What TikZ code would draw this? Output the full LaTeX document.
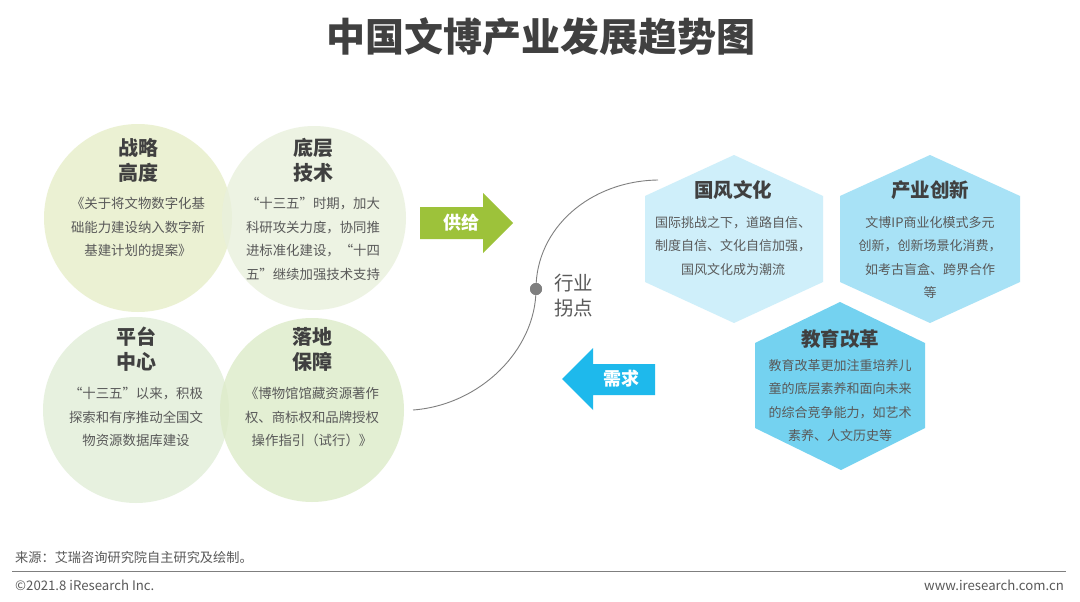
\documentclass[tikz,border=0pt]{standalone}
\usepackage{fontspec}
\setmainfont{Noto Sans CJK SC}
\definecolor{ttl}{HTML}{404040}
\definecolor{bdy}{HTML}{595959}
\definecolor{cTL}{HTML}{E7EEC8}
\definecolor{cTR}{HTML}{E9F0DC}
\definecolor{cBL}{HTML}{E1EED8}
\definecolor{cBR}{HTML}{DDEBC9}
\definecolor{hexA}{HTML}{CFEFFA}
\definecolor{hexB}{HTML}{A8E2F6}
\definecolor{hexC}{HTML}{74D2F0}
\definecolor{supgreen}{HTML}{9DC23A}
\definecolor{demblue}{HTML}{1EB9EC}
\definecolor{curvegray}{HTML}{7F7F7F}
\begin{document}
\begin{tikzpicture}[x=1pt,y=-1pt,
  circ/.style={fill opacity=0.8},
  ctitle/.style={text=ttl,font=\fontsize{20}{25}\selectfont\bfseries,align=center,inner sep=0pt},
  cbody/.style={text=bdy,font=\fontsize{13.4}{23.5}\selectfont,align=center,inner sep=0pt},
  htitle/.style={text=ttl,font=\fontsize{19.5}{24}\selectfont\bfseries,inner sep=0pt},
  hbody/.style={text=bdy,font=\fontsize{13}{23.5}\selectfont,align=center,inner sep=0pt},
  arrlabel/.style={text=white,font=\fontsize{18}{22}\selectfont\bfseries,inner sep=0pt},
  foot/.style={text=bdy,font=\fontsize{13.2}{15}\selectfont,inner sep=0pt}
]
\useasboundingbox[fill=white] (0,0) rectangle (1080,602);

% title
\node[text=ttl,font=\fontsize{39}{44}\selectfont\bfseries,inner sep=0pt] (title) at (541,37) {中国文博产业发展趋势图};

% circles
\fill[cTL,circ] (138,218) circle (94);
\fill[cTR,circ] (314,218) circle (92);
\fill[cBL,circ] (136,410) circle (93);
\fill[cBR,circ] (312,410) circle (92);

\node[ctitle] (t1) at (138,160) {战略\\高度};
\node[cbody,anchor=north] (b1) at (138,197) {《关于将文物数字化基\\础能力建设纳入数字新\\基建计划的提案》};
\node[ctitle] (t2) at (313,160) {底层\\技术};
\node[cbody,anchor=north] (b2) at (313,197) {“十三五”时期，加大\\科研攻关力度，协同推\\进标准化建设，“十四\\五”继续加强技术支持};
\node[ctitle] (t3) at (136,349) {平台\\中心};
\node[cbody,anchor=north] (b3) at (136,387) {“十三五”以来，积极\\探索和有序推动全国文\\物资源数据库建设};
\node[ctitle] (t4) at (312,349) {落地\\保障};
\node[cbody,anchor=north] (b4) at (312,387) {《博物馆馆藏资源著作\\权、商标权和品牌授权\\操作指引（试行）》};

% supply arrow
\fill[supgreen] (420,207) -- (483,207) -- (483,193) -- (513,223) -- (483,253) -- (483,239) -- (420,239) -- cycle;
\node[arrlabel] (sup) at (461,223) {供给};
% demand arrow
\fill[demblue] (655,364) -- (593,364) -- (593,348) -- (562,379) -- (593,410) -- (593,395) -- (655,395) -- cycle;
\node[arrlabel] (dem) at (621,379) {需求};

% S curve with turning point
\coordinate (cs) at (413,410);
\coordinate (ce) at (658,180);
\node[circle,fill=curvegray,inner sep=0pt,minimum size=12pt] (dot) at (536,289) {};
\draw[curvegray,line width=0.9pt] (cs) .. controls (480,405) and (536,350) .. (dot.center)
  .. controls (536,228) and (590,181) .. (ce);
\fill[curvegray] (dot) circle (6);
\node[text=bdy,font=\fontsize{19.5}{25}\selectfont,align=left,inner sep=0pt,anchor=west] (turn) at (554,296) {行业\\拐点};

% hexagons
\fill[hexA] (734,155) -- (823,196) -- (823,282) -- (734,323) -- (645,282) -- (645,196) -- cycle;
\fill[hexB] (930,155) -- (1020,196) -- (1020,282) -- (930,323) -- (840,282) -- (840,196) -- cycle;
\fill[hexC] (840,302) -- (925,343) -- (925,428) -- (841,470) -- (755,428) -- (755,343) -- cycle;

\node[htitle] (h1) at (733,190) {国风文化};
\node[hbody,anchor=north] (hb1) at (733,216) {国际挑战之下，道路自信、\\制度自信、文化自信加强，\\国风文化成为潮流};
\node[htitle] (h2) at (930,190) {产业创新};
\node[hbody,anchor=north] (hb2) at (930,216) {文博IP商业化模式多元\\创新，创新场景化消费，\\如考古盲盒、跨界合作\\等};
\node[htitle] (h3) at (840,339) {教育改革};
\node[hbody,anchor=north] (hb3) at (840,359) {教育改革更加注重培养儿\\童的底层素养和面向未来\\的综合竞争能力，如艺术\\素养、人文历史等};

% footer
\node[foot,anchor=west] (src) at (15,557) {来源：艾瑞咨询研究院自主研究及绘制。};
\coordinate (fl) at (12,571);
\coordinate (fr) at (1066,571);
\draw[curvegray,line width=0.8pt] (fl) -- (fr);
\node[foot,anchor=west] (copy) at (15,585) {©2021.8 iResearch Inc.};
\node[foot,anchor=east] (web) at (1064,585) {www.iresearch.com.cn};
\end{tikzpicture}
\end{document}
